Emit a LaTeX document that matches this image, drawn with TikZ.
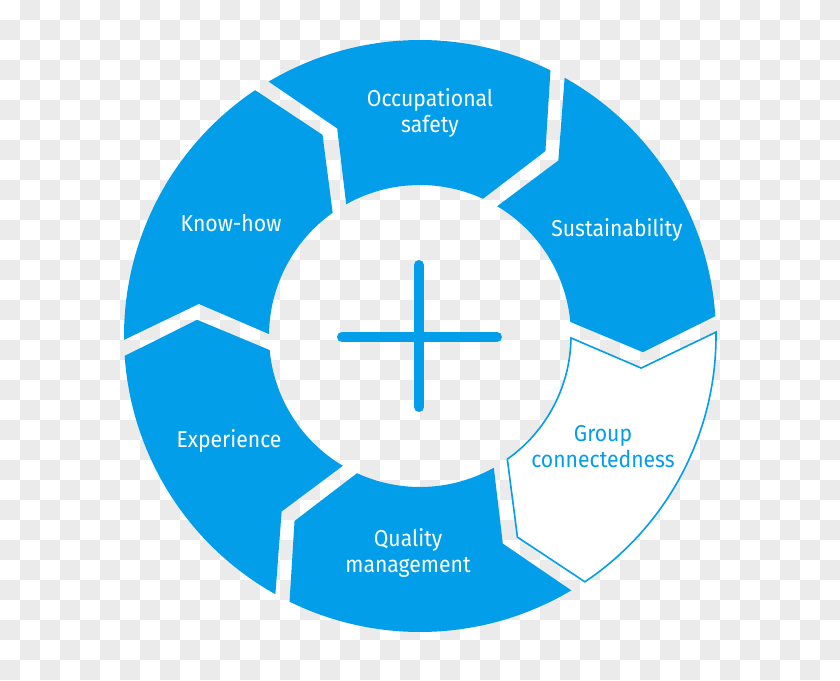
\documentclass[tikz,border=0pt]{standalone}
\usepackage{fontspec}
\newfontfamily\labfont[FakeStretch=0.92]{Fira Sans}
\definecolor{segblue}{RGB}{3,158,233}
\definecolor{checkgrey}{RGB}{235,235,235}
% #1 = boundary angle at the clockwise end, #2 = path options
\newcommand\ringseg[2]{%
  \pgfmathsetmacro\segOa{#1+1.55}%
  \pgfmathsetmacro\segOb{#1+60-1.55}%
  \pgfmathsetmacro\segTip{#1+2.05-8.5}%
  \pgfmathsetmacro\segIa{#1+3.04}%
  \pgfmathsetmacro\segIb{#1+60-3.04}%
  \pgfmathsetmacro\segNotch{#1+60-2.05-8.5}%
  \path[#2] (\segOb:296pt) arc[start angle=\segOb, end angle=\segOa, radius=296pt]
    -- (\segTip:223.5pt) -- (\segIa:151pt)
    arc[start angle=\segIa, end angle=\segIb, radius=151pt]
    -- (\segNotch:223.5pt) -- cycle;
}
\begin{document}
\begin{tikzpicture}[x=1pt,y=1pt,
  lab/.style={font=\labfont\fontsize{23}{26}\selectfont, align=center, text=white, inner sep=0pt},
  blueseg/.style={fill=segblue},
  whiteseg/.style={fill=white, draw=segblue, line width=1.6pt, line join=miter},
  plusbar/.style={draw=segblue, line width=10pt, line cap=round}]
\useasboundingbox (-420,-344) rectangle (420,336);
% transparency checkerboard
\fill[white] (-420,-344) rectangle (420,336);
\foreach \i in {0,...,41}{
  \foreach \j in {0,...,33}{
    \pgfmathtruncatemacro\cksum{\i+\j}
    \ifodd\cksum
      \fill[checkgrey] (20*\i-420,336-20*\j) rectangle (20*\i-400,316-20*\j);
    \fi
  }
}
% ring segments
\ringseg{2.3}{blueseg}
\ringseg{62.3}{blueseg}
\ringseg{122.3}{blueseg}
\ringseg{182.3}{blueseg}
\ringseg{242.3}{blueseg}
\ringseg{-57.7}{whiteseg}
% labels
\node[lab] (occ) at (10,223) {Occupational\\safety};
\node[lab] (sus) at (197,106) {Sustainability};
\node[lab] (kh) at (-189,113) {Know-how};
\node[lab] (exp) at (-191,-105) {Experience};
\node[lab] (qm) at (-12,-217) {Quality\\management};
\node[lab, text=segblue] (grp) at (183,-111) {Group\\connectedness};
% plus sign
\coordinate (hl) at (-78,-1);
\coordinate (hr) at (77,-1);
\coordinate (vt) at (-1,71);
\coordinate (vb) at (-1,-71);
\draw[plusbar] (hl) -- (hr);
\draw[plusbar] (vt) -- (vb);
\end{tikzpicture}
\end{document}
